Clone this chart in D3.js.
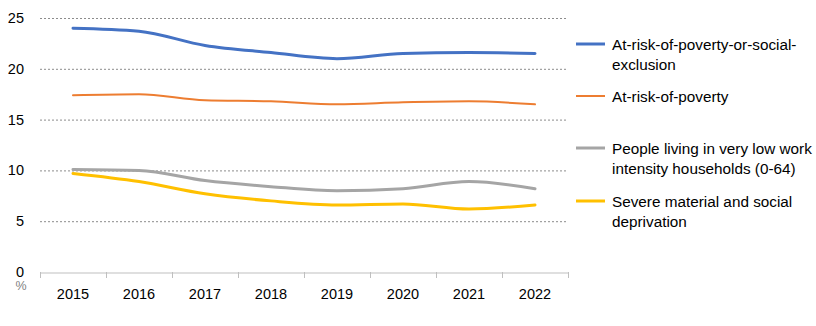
<!DOCTYPE html>
<html><head><meta charset="utf-8">
<script src="https://cdn.jsdelivr.net/npm/d3@7"></script>
<style>body{margin:0;background:#fff}svg{display:block}</style>
</head><body>
<svg id="c" width="816" height="326"></svg>
<script>
const years = ["2015","2016","2017","2018","2019","2020","2021","2022"];
const arope = [24.0, 23.7, 22.3, 21.6, 21.0, 21.5, 21.6, 21.5];
const arop = [17.4, 17.5, 16.9, 16.8, 16.5, 16.7, 16.8, 16.5];
const lwi = [10.1, 10.0, 9.0, 8.4, 8.0, 8.2, 8.9, 8.2];
const smsd = [9.7, 8.9, 7.7, 7.0, 6.6, 6.7, 6.2, 6.6];
const yTicks = [0, 5, 10, 15, 20, 25];
const seriesNames = [
  ["At-risk-of-poverty-or-social-", "exclusion"],
  ["At-risk-of-poverty"],
  ["People living in very low work", "intensity households (0-64)"],
  ["Severe material and social", "deprivation"]
];
const colors = ["#4472C4", "#ED7D31", "#A5A5A5", "#FFC000"];
const widths = [3, 2, 3, 3];
const data = [arope, arop, lwi, smsd];

const svg = d3.select("#c");
const font = "'Liberation Sans', Arial, sans-serif";
const x = d3.scaleBand().domain(years).range([40, 568]);
const y = d3.scaleLinear().domain([0, 25]).range([272, 18]);

// gridlines
svg.append("g").selectAll("line").data(yTicks.filter(d => d > 0)).join("line")
  .attr("x1", 40).attr("x2", 568)
  .attr("y1", d => y(d) + 0.5).attr("y2", d => y(d) + 0.5)
  .attr("stroke", "#8c8c8c").attr("stroke-width", 1).attr("stroke-dasharray", "2,2");

// y labels
svg.append("g").selectAll("text").data(yTicks).join("text")
  .attr("x", 24).attr("y", d => y(d) + 5)
  .attr("text-anchor", "end").attr("font-family", font).attr("font-size", 14.5)
  .attr("fill", "#000").text(d => d);

// x axis
const xa = svg.append("g").attr("transform", "translate(0,272.5)")
  .call(d3.axisBottom(x).tickSize(0).tickPadding(0).tickFormat(""));
xa.select(".domain").attr("stroke", "#bfbfbf");
xa.selectAll(".tick").remove();
const bounds = years.map(d => x(d)).concat([x.range()[1]]);
svg.append("g").selectAll("line").data(bounds).join("line")
  .attr("x1", d => Math.round(d) + 0.5).attr("x2", d => Math.round(d) + 0.5)
  .attr("y1", 272).attr("y2", 278).attr("stroke", "#bfbfbf");

svg.append("g").selectAll("text").data(years).join("text")
  .attr("x", d => x(d) + x.bandwidth() / 2).attr("y", 299)
  .attr("text-anchor", "middle").attr("font-family", font).attr("font-size", 14.5)
  .attr("fill", "#000").text(d => d);

svg.append("text").attr("x", 21).attr("y", 290).attr("text-anchor", "middle")
  .attr("font-family", font).attr("font-size", 12.5).attr("fill", "#7f7f7f").text("%");

// lines
const line = d3.line().x((d, i) => x(years[i]) + x.bandwidth() / 2).y(d => y(d))
  .curve(d3.curveMonotoneX);
data.forEach((s, k) => {
  svg.append("path").datum(s).attr("d", line).attr("fill", "none")
    .attr("stroke", colors[k]).attr("stroke-width", widths[k]).attr("stroke-linecap", "round");
});

// legend
const legY = [44, 96, 148, 201];
seriesNames.forEach((lines, k) => {
  svg.append("line").attr("x1", 576).attr("x2", 605).attr("y1", legY[k]).attr("y2", legY[k])
    .attr("stroke", colors[k]).attr("stroke-width", widths[k]);
  lines.forEach((t, j) => {
    svg.append("text").attr("x", 612).attr("y", legY[k] + 5.5 + j * 20)
      .attr("font-family", font).attr("font-size", 15.3).attr("fill", "#000").text(t);
  });
});
</script>
</body></html>
